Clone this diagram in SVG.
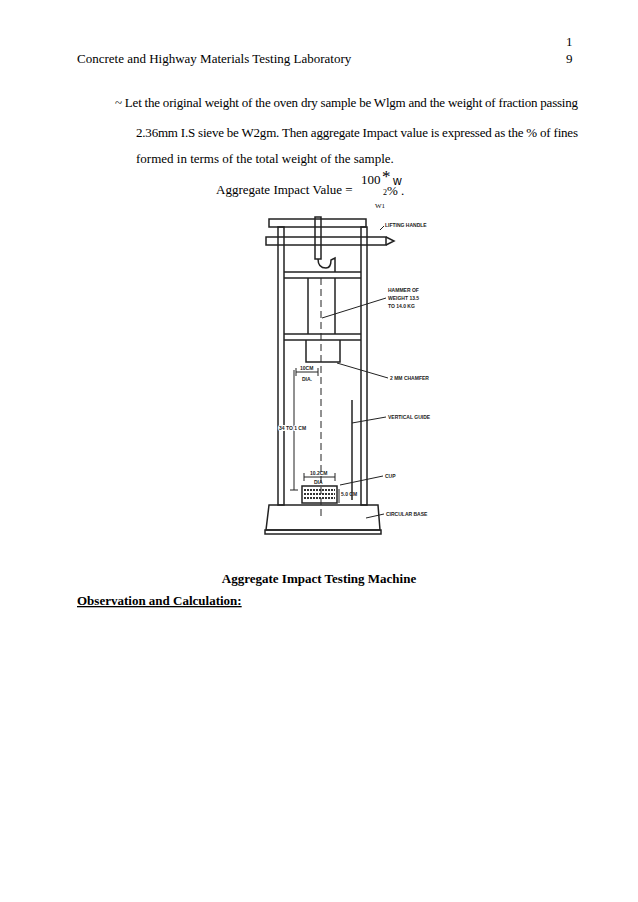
<svg xmlns="http://www.w3.org/2000/svg" width="638" height="902" viewBox="0 0 638 902">
<style>
.t{font-family:"Liberation Serif",serif;font-size:13px;fill:#000}
.l{font-family:"Liberation Sans",sans-serif;font-size:5px;font-weight:bold;fill:#222}
.d{fill:none;stroke:#222;stroke-width:1.5}
.th{fill:none;stroke:#222;stroke-width:1}
</style>
<rect width="638" height="902" fill="#fff"/>
<text class="t" x="77" y="63">Concrete and Highway Materials Testing Laboratory</text>
<text class="t" x="566" y="46">1</text>
<text class="t" x="566" y="63">9</text>
<text class="t" x="115" y="107" textLength="463" lengthAdjust="spacing">~ Let the original weight of the oven dry sample be Wlgm and the weight of fraction passing</text>
<text class="t" x="136" y="137" textLength="442" lengthAdjust="spacing">2.36mm I.S sieve be W2gm. Then aggregate Impact value is expressed as the % of fines</text>
<text class="t" x="136" y="163">formed in terms of the total weight of the sample.</text>
<text class="t" x="361" y="184">100</text>
<text class="t" x="382" y="182" style="font-size:17px">*</text>
<text x="393" y="185" font-family="Liberation Sans,sans-serif" font-size="12">w</text>
<text class="t" x="216" y="194">Aggregate Impact Value =</text>
<text class="t" x="383" y="195"><tspan style="font-size:8px">2</tspan>% .</text>
<text class="t" x="375" y="208" style="font-size:7px">W1</text>
<g id="machine">
<rect class="d" x="269" y="219" width="97" height="8"/>
<rect class="d" x="266" y="237" width="120" height="8"/>
<path class="d" d="M386,237 L394,241 L386,245"/>
<rect class="d" x="278" y="227" width="6" height="278"/>
<rect class="d" x="361" y="227" width="6" height="278"/>
<rect class="d" x="315" y="217" width="6" height="42"/>
<path class="d" d="M318,259 Q318,268 326,268 Q331,268 331,260 L335,258 L335,272"/>
<line class="d" x1="284" y1="272" x2="361" y2="272"/>
<line class="d" x1="284" y1="278" x2="361" y2="278"/>
<line class="d" x1="308" y1="278" x2="308" y2="334"/>
<line class="d" x1="335" y1="278" x2="335" y2="334"/>
<line class="d" x1="284" y1="334" x2="361" y2="334"/>
<line class="d" x1="284" y1="340" x2="361" y2="340"/>
<path class="d" d="M306,340 V362 H340 V340"/>
<line class="th" x1="321" y1="278" x2="321" y2="520" stroke-dasharray="7,4"/>
<line class="d" x1="352" y1="400" x2="352" y2="500"/>
<rect class="d" x="302" y="486" width="35" height="17"/>
<path d="M304,490 H335 M304,494 H335 M304,498 H335" stroke="#333" stroke-width="2" stroke-dasharray="2,1"/>
<path class="d" d="M269,505 H378 L380,530 H266 Z"/>
<rect class="d" x="265" y="530" width="116" height="4"/>
<path class="th" d="M296,372 H318 M296,368 V376 M318,368 V376"/>
<path class="th" d="M294,370 V490 M290,490 H298"/>
<path class="th" d="M304,477 H335 M304,473 V481 M335,473 V481"/>
<path class="th" d="M339,489 V503"/>
<line class="th" x1="337" y1="363" x2="388" y2="378"/>
<line class="th" x1="352" y1="423" x2="386" y2="417"/>
<line class="th" x1="340" y1="485" x2="383" y2="476"/>
<line class="th" x1="366" y1="518" x2="384" y2="514"/>
<line class="th" x1="322" y1="318" x2="386" y2="298"/>
<line class="th" x1="380" y1="230" x2="384" y2="226"/>
</g>
<g id="labels">
<text class="l" x="385" y="227">LIFTING HANDLE</text>
<text class="l" x="388" y="292">HAMMER OF</text>
<text class="l" x="388" y="300">WEIGHT 13.5</text>
<text class="l" x="388" y="308">TO 14.0 KG</text>
<text class="l" x="390" y="380">2 MM CHAMFER</text>
<text class="l" x="388" y="419">VERTICAL GUIDE</text>
<text class="l" x="385" y="478">CUP</text>
<text class="l" x="386" y="516">CIRCULAR BASE</text>
<text class="l" x="300" y="370">10CM</text>
<text class="l" x="302" y="381">DIA.</text>
<text class="l" x="279" y="430" style="fill:#222;stroke:#fff;stroke-width:2;paint-order:stroke">34 TO 1 CM</text>
<text class="l" x="310" y="475">10.2CM</text>
<text class="l" x="314" y="484">DIA</text>
<text class="l" x="341" y="496">5.0 CM</text>
</g>
<text class="t" x="319" y="583" text-anchor="middle" font-weight="bold">Aggregate Impact Testing Machine</text>
<text class="t" x="77" y="605" font-weight="bold" text-decoration="underline">Observation and Calculation: </text>
</svg>
